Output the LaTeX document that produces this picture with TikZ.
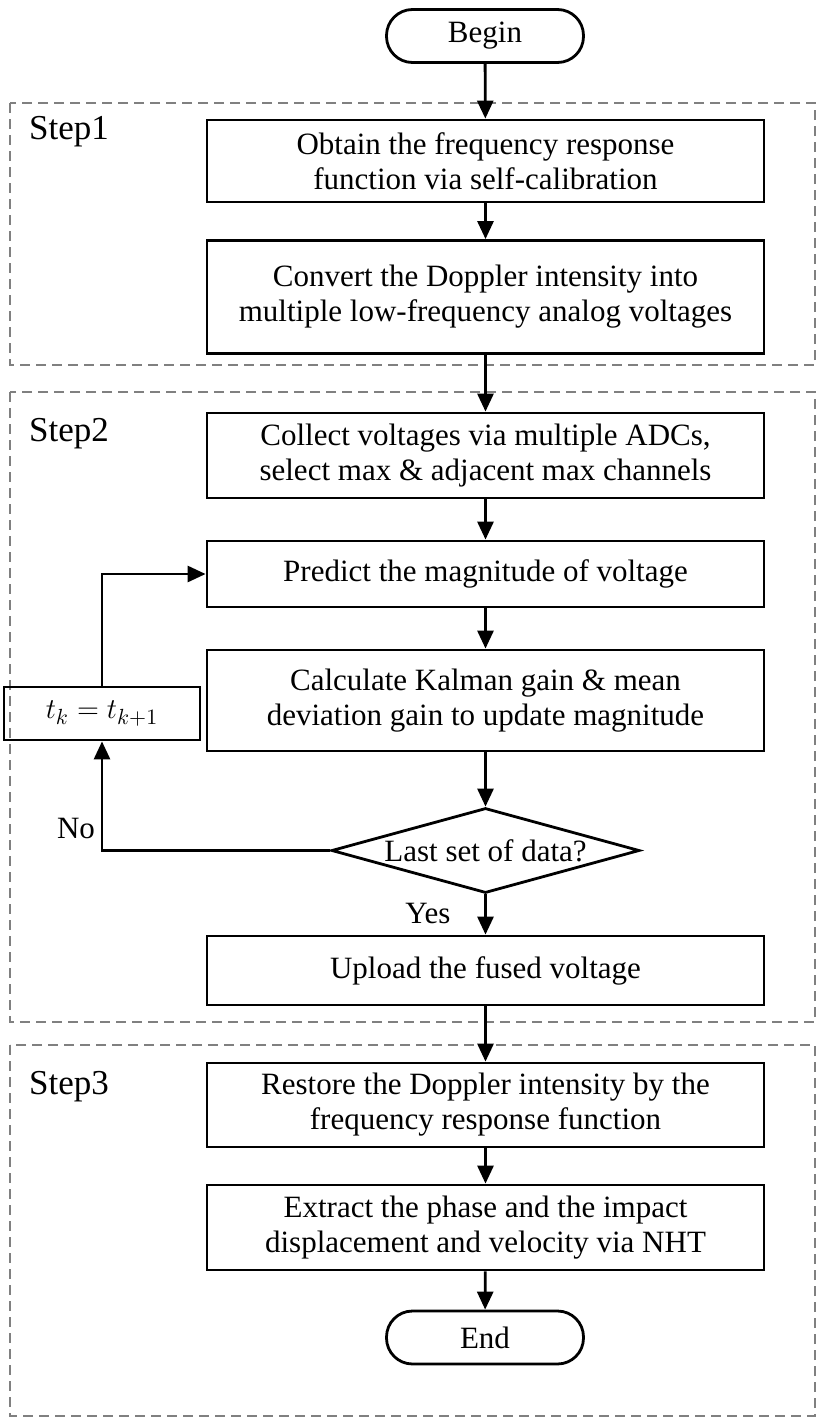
\documentclass[tikz,border=0pt]{standalone}
\usepackage{fontspec}
\setmainfont{Liberation Serif}
\usetikzlibrary{shapes.geometric,arrows.meta}
\begin{document}
\begin{tikzpicture}[x=0.5pt,y=-0.5pt,
  box/.style={draw,line width=1.4pt,minimum width=278.5pt,align=center,font=\fontsize{15.5}{17.5}\selectfont,inner sep=0pt},
  pill/.style={draw,line width=1.4pt,rounded corners=13pt,minimum width=98.5pt,minimum height=26.5pt,font=\fontsize{15.5}{17.5}\selectfont},
  group/.style={draw=gray,dashed,line width=1.1pt,dash pattern=on 5pt off 3pt},
  arr/.style={line width=1.4pt,-{Triangle[length=9pt,width=8pt]}},
  lbl/.style={font=\fontsize{15.5}{17.5}\selectfont}]
\useasboundingbox (0,0) rectangle (825,1424);
\draw[group] (10,103) rectangle (815,365);
\draw[group] (10,392) rectangle (815,1022);
\draw[group] (10,1045) rectangle (815,1416);
\node[lbl,anchor=west,font=\fontsize{17.5}{20}\selectfont] (s1) at (22,132) {Step1};
\node[lbl,anchor=west,font=\fontsize{17.5}{20}\selectfont] (s2) at (22,434) {Step2};
\node[lbl,anchor=west,font=\fontsize{17.5}{20}\selectfont] (s3) at (22,1087) {Step3};
\node[pill] (begin) at (485,36) {Begin};
\node[box,minimum height=41pt] (b1) at (485.5,161) {Obtain the frequency response\\function via self-calibration};
\node[box,minimum height=56.5pt] (b2) at (485.5,297) {Convert the Doppler intensity into\\multiple low-frequency analog voltages};
\node[box,minimum height=42.5pt] (b3) at (485.5,455.5) {Collect voltages via multiple ADCs,\\select max \& adjacent max channels};
\node[box,minimum height=33pt] (b4) at (485.5,574) {Predict the magnitude of voltage};
\node[box,minimum height=50.5pt] (b5) at (485.5,700.5) {Calculate Kalman gain \& mean\\deviation gain to update magnitude};
\node[draw,line width=1.4pt,diamond,aspect=3.6,minimum width=154pt,minimum height=42.5pt,inner sep=0pt,font=\fontsize{15.5}{17.5}\selectfont] (d) at (485.5,850.5) {Last set of data?};
\node[box,minimum height=34.5pt] (b6) at (485.5,970.5) {Upload the fused voltage};
\node[box,minimum height=42pt] (b7) at (485.5,1105) {Restore the Doppler intensity by the\\frequency response function};
\node[box,minimum height=42.5pt] (b8) at (485.5,1227.5) {Extract the phase and the impact\\displacement and velocity via NHT};
\node[pill] (end) at (485,1337.5) {End};
\node[draw,line width=1.4pt,minimum width=98pt,minimum height=26.5pt,inner sep=0pt,font=\fontsize{15.5}{17.5}\selectfont] (tk) at (102,713.5) {$t_k=t_{k+1}$};
\draw[arr] (begin) -- (b1);
\draw[arr] (b1) -- (b2);
\draw[arr] (b2) -- (b3);
\draw[arr] (b3) -- (b4);
\draw[arr] (b4) -- (b5);
\draw[arr] (b5) -- (d);
\draw[arr] (d) -- (b6);
\draw[arr] (b6) -- (b7);
\draw[arr] (b7) -- (b8);
\draw[arr] (b8) -- (end);
\draw[arr] (d.west) -| (tk.south);
\draw[arr] (tk.north) |- (b4.west);
\node[lbl] (no) at (76,828) {No};
\node[lbl] (yes) at (428,913) {Yes};
\end{tikzpicture}
\end{document}
